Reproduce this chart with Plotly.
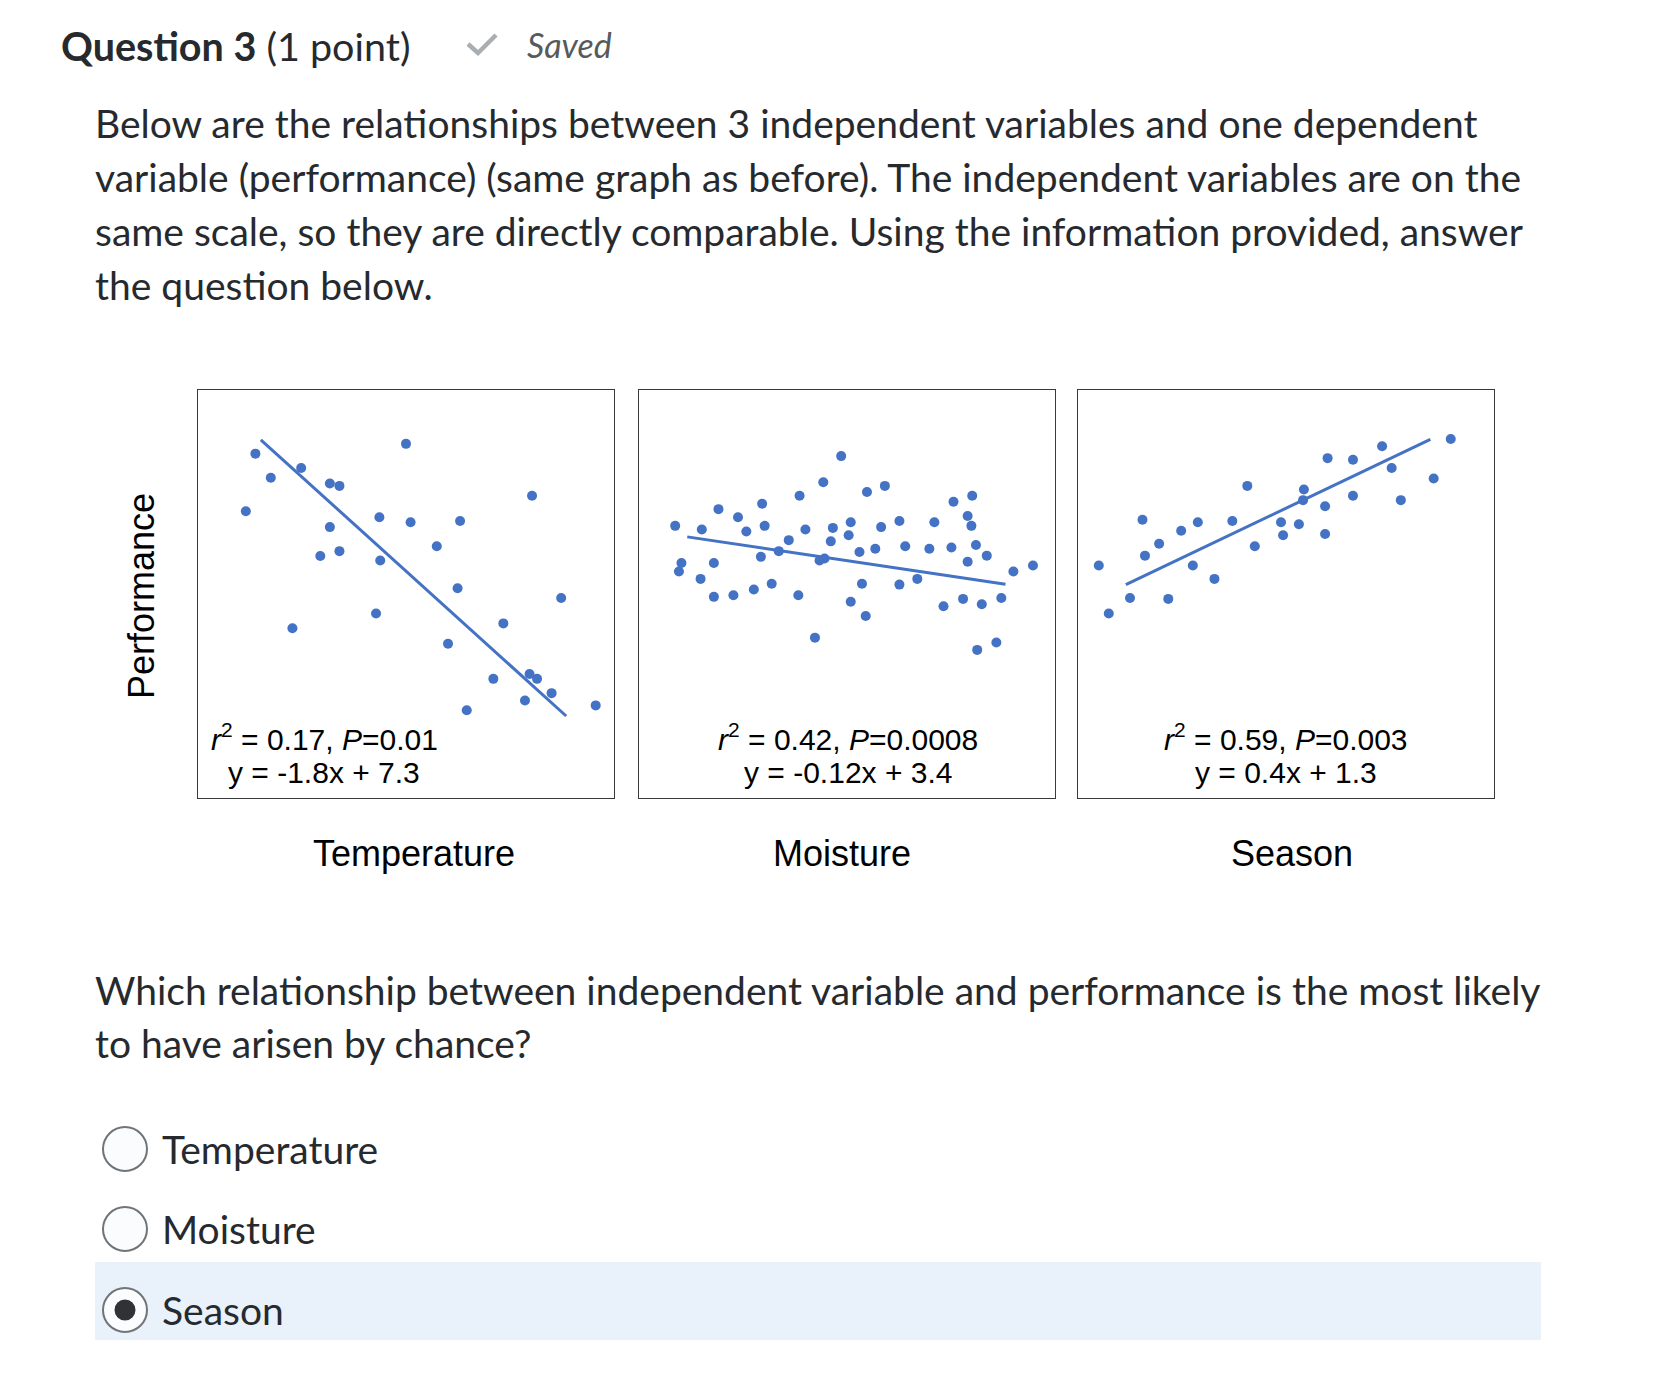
import plotly.graph_objects as go

# page body adds an 8px margin; the figure is sized to fill the rest of the window
OFF = 8
W, H = 1658 - OFF, 1380 - OFF

# ---------------- data (panel units 0-100) ----------------
temp_x = [13.8, 11.5, 17.5, 24.8, 31.7, 34.0, 31.7, 29.4, 34.0, 22.7, 50.0, 43.6, 51.1, 43.8, 42.8,
          63.0, 57.4, 62.4, 60.1, 80.3, 87.3, 73.4, 71.0, 79.7, 81.5, 85.0, 78.6, 64.6, 95.6]
temp_y = [84.4, 70.3, 78.5, 80.9, 77.1, 76.5, 66.4, 59.3, 60.5, 41.6, 86.8, 68.8, 67.6, 58.2, 45.2,
          67.9, 61.7, 51.4, 37.8, 74.1, 49.0, 42.8, 29.2, 30.4, 29.2, 25.7, 23.9, 21.5, 22.7]
temp_fit_x = [15.1, 88.5]
temp_fit_y = [87.8, 20.1]

moist_x = [8.7, 15.1, 19.1, 23.8, 25.8, 29.6, 30.2, 10.2, 9.6, 18.0, 14.8, 18.0, 22.7, 27.6, 31.9,
           29.3, 33.6, 36.0, 38.6, 40.0, 44.3, 46.6, 46.1, 48.6, 50.9, 50.4, 43.4, 44.6, 38.3, 42.3,
           50.9, 53.6, 53.0, 54.8, 56.8, 58.2, 59.1, 62.6, 54.5, 64.0, 62.6, 66.9, 71.0, 69.8, 75.1,
           75.6, 80.1, 79.0, 79.9, 81.0, 79.0, 83.6, 73.2, 77.9, 82.4, 87.1, 81.3, 85.9, 90.0, 94.7]
moist_y = [66.7, 65.8, 70.8, 68.8, 65.3, 72.1, 66.7, 57.6, 55.5, 57.6, 53.7, 49.3, 49.7, 51.1, 52.5,
           59.1, 60.5, 63.2, 74.1, 65.8, 77.4, 66.2, 62.9, 83.8, 67.6, 64.4, 58.2, 58.7, 49.7, 39.3,
           48.1, 52.5, 60.3, 75.0, 61.1, 66.4, 76.5, 67.9, 44.6, 61.7, 52.3, 53.7, 67.6, 61.1, 61.4,
           72.6, 74.1, 69.1, 66.7, 62.0, 57.9, 59.4, 47.0, 48.8, 47.5, 49.0, 36.3, 38.1, 55.5, 57.0]
moist_fit_x = [11.6, 88.1]
moist_fit_y = [64.0, 52.4]

season_x = [5.0, 7.4, 12.5, 15.5, 16.1, 19.5, 21.7, 24.8, 27.6, 28.8, 32.8, 37.1, 40.7, 42.5, 48.8,
            49.3, 53.1, 54.3, 54.1, 59.4, 59.4, 60.0, 66.1, 66.1, 73.1, 75.4, 77.6, 85.5, 89.6]
season_y = [57.0, 45.2, 49.0, 68.2, 59.4, 62.3, 48.8, 65.5, 57.0, 67.6, 53.7, 67.9, 76.5, 61.7, 67.6,
            64.4, 67.1, 75.6, 73.0, 71.5, 64.7, 83.3, 82.9, 74.1, 86.2, 80.9, 73.0, 78.3, 88.0]
season_fit_x = [11.5, 84.7]
season_fit_y = [52.3, 87.9]

x_labels = ["Temperature", "Moisture", "Season"]
y_label = "Performance"
stat_lines = ["<i>r</i><sup>2</sup> = 0.17, <i>P</i>=0.01",
              "<i>r</i><sup>2</sup> = 0.42, <i>P</i>=0.0008",
              "<i>r</i><sup>2</sup> = 0.59, <i>P</i>=0.003"]
eq_lines = ["y = -1.8x + 7.3", "y = -0.12x + 3.4", "y = 0.4x + 1.3"]

paragraph = ["Below are the relationships between 3 independent variables and one dependent",
             "variable (performance) (same graph as before). The independent variables are on the",
             "same scale, so they are directly comparable. Using the information provided, answer",
             "the question below."]
question = ["Which relationship between independent variable and performance is the most likely",
            "to have arisen by chance?"]
options = ["Temperature", "Moisture", "Season"]
selected = 2

# ---------------- helpers (window pixel -> paper) ----------------
def px(x):
    return (x - OFF) / W

def py(y):
    return 1 - (y - OFF) / H

BLUE = "#4472C4"
TXT = "#262a2e"
PAGE_FONT = "Lato"
CHART_FONT = "Liberation Sans, Arial, sans-serif"

panels = [(198, 614), (639, 1055), (1078, 1494)]
p_top, p_bot = 390, 798

series = [(temp_x, temp_y, temp_fit_x, temp_fit_y),
          (moist_x, moist_y, moist_fit_x, moist_fit_y),
          (season_x, season_y, season_fit_x, season_fit_y)]

fig = go.Figure()
layout_axes = {}
for i, (xs, ys, fx, fy) in enumerate(series):
    n = "" if i == 0 else str(i + 1)
    fig.add_trace(go.Scatter(x=xs, y=ys, mode="markers", xaxis="x" + n, yaxis="y" + n,
                             marker=dict(size=10, color=BLUE, line=dict(width=0)),
                             showlegend=False, hoverinfo="skip"))
    fig.add_trace(go.Scatter(x=fx, y=fy, mode="lines", xaxis="x" + n, yaxis="y" + n,
                             line=dict(color=BLUE, width=3),
                             showlegend=False, hoverinfo="skip"))
    x0, x1 = panels[i]
    common = dict(range=[0, 100], showgrid=False, zeroline=False, showticklabels=False,
                  ticks="", showline=True, mirror=True, linecolor="#3a3a3a", linewidth=1.3,
                  fixedrange=True)
    layout_axes["xaxis" + n] = dict(domain=[px(x0), px(x1)], anchor="y" + n, **common)
    layout_axes["yaxis" + n] = dict(domain=[py(p_bot), py(p_top)], anchor="x" + n, **common)

annotations = []

def add_text(text, x, y, size, family=PAGE_FONT, color=TXT, xanchor="left", angle=0):
    annotations.append(dict(text=text, x=px(x), y=py(y), xref="paper", yref="paper",
                            xanchor=xanchor, yanchor="middle", showarrow=False, textangle=angle,
                            font=dict(size=size, family=family, color=color)))

# header
add_text("<b>Question 3</b> (1 point)", 59, 45, 39.5)
add_text("<i>Saved</i>", 525, 44, 34, color="#555a5f")

# paragraph
for k, line in enumerate(paragraph):
    add_text(line, 93, 123.5 + k * 54, 39)

# panel stats
stat_cx = [324, 848, 1286]
for i in range(3):
    add_text(stat_lines[i], stat_cx[i], 737, 30, family=CHART_FONT, color="#000", xanchor="center")
    add_text(eq_lines[i], stat_cx[i], 773, 30, family=CHART_FONT, color="#000", xanchor="center")

# axis labels
lab_cx = [414, 842, 1292]
for i in range(3):
    add_text(x_labels[i], lab_cx[i], 853, 36, family=CHART_FONT, color="#000", xanchor="center")
add_text(y_label, 141, 596, 36, family=CHART_FONT, color="#000", xanchor="center", angle=-90)

# question
for k, line in enumerate(question):
    add_text(line, 93, 990 + k * 53, 39)

# options
opt_y = [1149, 1229, 1310]
shapes = []
shapes.append(dict(type="rect", xref="paper", yref="paper",
                   x0=px(95), x1=px(1541), y0=py(1340), y1=py(1262),
                   fillcolor="#E9F1FA", line=dict(width=0), layer="below"))
for k, lab in enumerate(options):
    cx, cy, r = 125, opt_y[k], 22
    shapes.append(dict(type="circle", xref="paper", yref="paper",
                       x0=px(cx - r), x1=px(cx + r), y0=py(cy + r), y1=py(cy - r),
                       fillcolor="#FBFCFE", line=dict(color="#6f7478", width=2)))
    if k == selected:
        ri = 10.5
        shapes.append(dict(type="circle", xref="paper", yref="paper",
                           x0=px(cx - ri), x1=px(cx + ri), y0=py(cy + ri), y1=py(cy - ri),
                           fillcolor="#2f3336", line=dict(width=0)))
    add_text(lab, 160, cy, 39)

# check mark
shapes.append(dict(type="path", xref="paper", yref="paper",
                   path=f"M {px(468)} {py(44)} L {px(478)} {py(53)} L {px(496)} {py(35)}",
                   line=dict(color="#a9aeb3", width=4.5)))

fig.update_layout(width=W, height=H, margin=dict(l=0, r=0, t=0, b=0),
                  paper_bgcolor="white", plot_bgcolor="white",
                  annotations=annotations, shapes=shapes, **layout_axes)

fig.write_html("out.html")
